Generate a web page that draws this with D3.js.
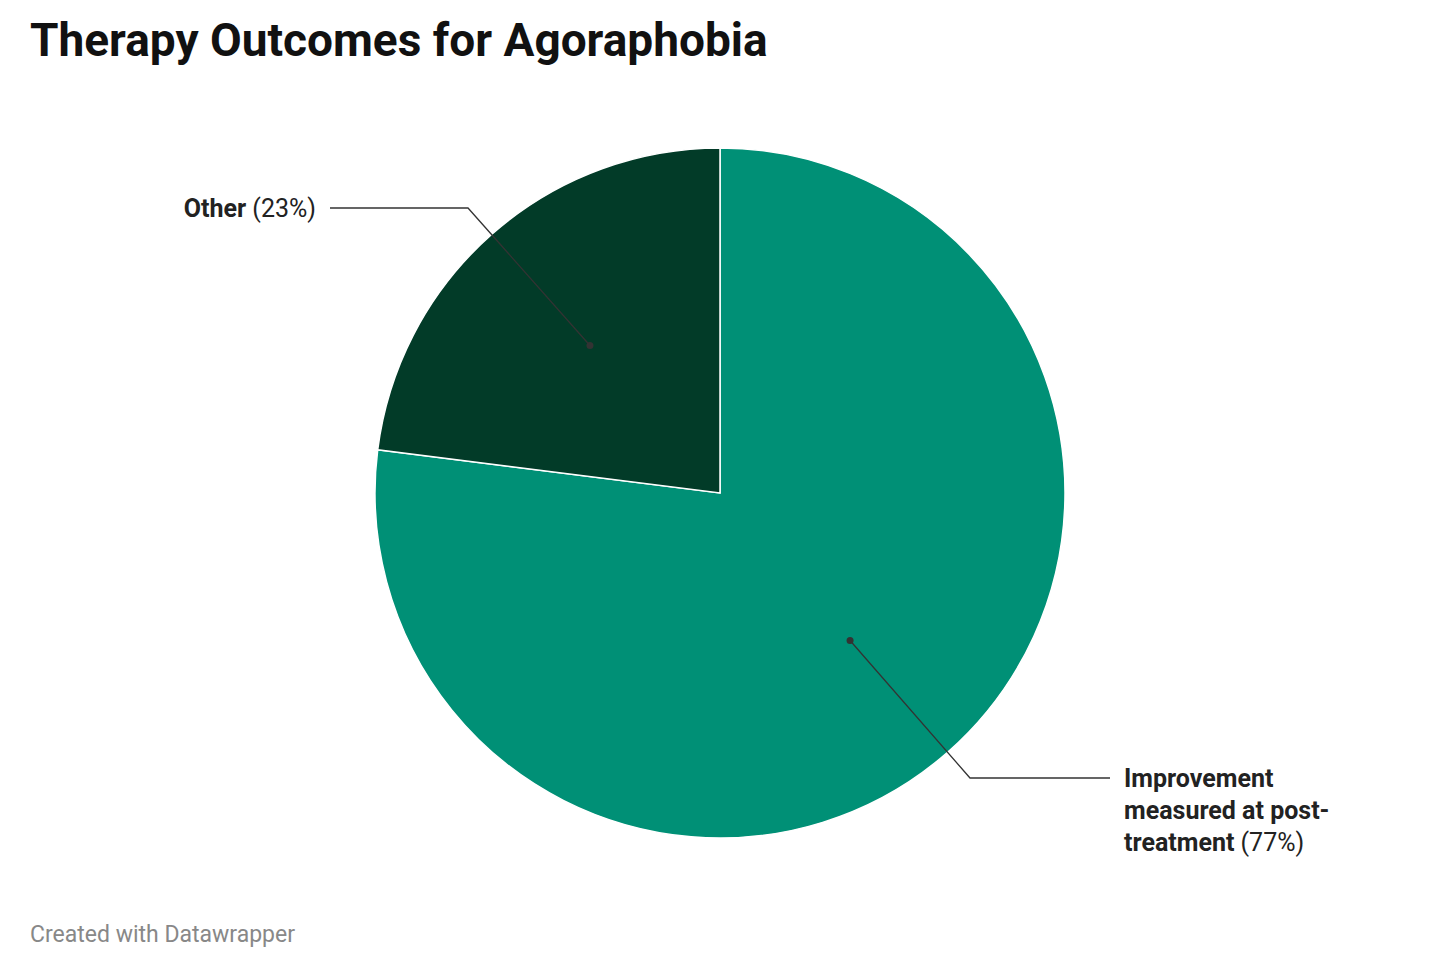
<!DOCTYPE html>
<html>
<head>
<meta charset="UTF-8">
<title>Therapy Outcomes for Agoraphobia</title>
<script src="https://cdn.jsdelivr.net/npm/d3@7"></script>
<style>
  body { margin: 0; background: #fff; font-family: Roboto, sans-serif; }
</style>
</head>
<body>
<svg id="chart" width="1440" height="960"></svg>
<script>
// data
var labels = ["Improvement measured at post-treatment", "Other"];
var values = [77, 23];
var colors = ["#009076", "#023b28"];

var svg = d3.select("#chart");

// title + footer
svg.append("text").attr("x", 30).attr("y", 56)
    .style("font-size", "46px").style("font-weight", 700).attr("fill", "#111")
    .text("Therapy Outcomes for Agoraphobia");
svg.append("text").attr("x", 30).attr("y", 942)
    .style("font-size", "23px").attr("fill", "#888")
    .text("Created with Datawrapper");

var cx = 720, cy = 493, r = 345;
var g = svg.append("g").attr("transform", "translate(" + cx + "," + cy + ")");

var pie = d3.pie().sort(null).value(function(d) { return d; });
var arc = d3.arc().innerRadius(0).outerRadius(r);
var arcs = pie(values);

g.selectAll("path").data(arcs).enter().append("path")
    .attr("d", arc)
    .attr("fill", function(d, i) { return colors[i]; })
    .attr("stroke", "#fff").attr("stroke-width", 1.5);

// label leader lines: dot inside slice, elbow, horizontal run
var inner = d3.arc().innerRadius(r * 0.57).outerRadius(r * 0.57);
var leaders = [
    { dx: 1, elbow: [250, 285], end: 390 },
    { dx: -1, elbow: [-252, -285], end: -390 }
];

arcs.forEach(function(d, i) {
    var p = inner.centroid(d);
    var L = leaders[i];
    g.append("polyline")
        .attr("points", [p, L.elbow, [L.end, L.elbow[1]]].map(function(q) { return q.join(","); }).join(" "))
        .attr("fill", "none").attr("stroke", "#333").attr("stroke-width", 1.3);
    g.append("circle").attr("cx", p[0]).attr("cy", p[1]).attr("r", 3.5).attr("fill", "#333");
});

// Improvement label (wrapped)
var t1 = g.append("text").attr("x", 404).attr("y", 285 + 9)
    .style("font-size", "25px").attr("fill", "#222");
t1.append("tspan").attr("x", 404).attr("dy", 0).style("font-weight", 700).text("Improvement");
t1.append("tspan").attr("x", 404).attr("dy", 32).style("font-weight", 700).text("measured at post-");
t1.append("tspan").attr("x", 404).attr("dy", 32).style("font-weight", 700).text("treatment");
t1.append("tspan").text(" (" + values[0] + "%)");

// Other label
var t2 = g.append("text").attr("x", -404).attr("y", -285 + 9)
    .attr("text-anchor", "end").style("font-size", "25px").attr("fill", "#222");
t2.append("tspan").style("font-weight", 700).text(labels[1]);
t2.append("tspan").text(" (" + values[1] + "%)");
</script>
</body>
</html>
